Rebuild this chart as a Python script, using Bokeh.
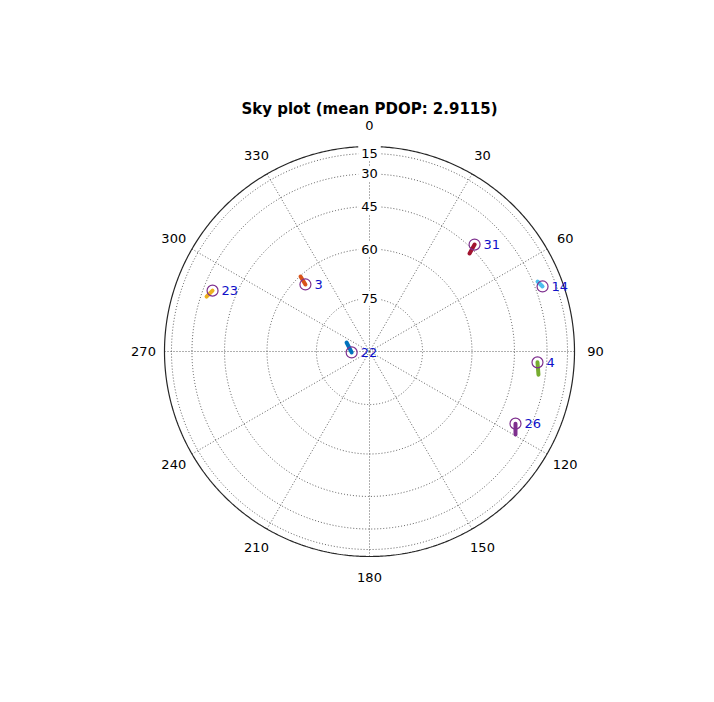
import numpy as np
from bokeh.plotting import figure
from bokeh.models import Range1d
from bokeh.core.properties import value
from bokeh.embed import file_html
from bokeh.resources import INLINE

# ---------------- data ----------------
title_text = "Sky plot (mean PDOP: 2.9115)"
sat_ids = ["22", "3", "23", "31", "14", "4", "26"]
trail_colors = ["#0072BD", "#D95319", "#EDB120", "#A2142F", "#4DBEEE", "#77AC30", "#7E2F8E"]
az_start = [291.4, 317.4, 288.6, 45.6, 67.4, 97.8, 119.6]
el_start = [83.1, 60.2, 33.0, 46.9, 27.4, 33.7, 35.0]
az_end = [267.0, 316.3, 291.2, 44.5, 69.4, 93.7, 116.3]
el_end = [85.0, 63.1, 34.8, 43.0, 25.6, 34.8, 37.4]
elev_ticks = [15, 30, 45, 60, 75]
az_ticks = [0, 30, 60, 90, 120, 150, 180, 210, 240, 270, 300, 330]

# ---------------- geometry ----------------
W, H = 698, 686
CX, CY = 369, 351      # centre, pixels
R = 205.0              # outer radius, pixels

def proj(az, el):
    az = np.radians(np.asarray(az, float))
    r = np.cos(np.radians(np.asarray(el, float)))
    return r * np.sin(az), r * np.cos(az)

p = figure(width=W, height=H, output_backend="svg", toolbar_location=None,
           x_range=Range1d(-CX / R, (W - CX) / R),
           y_range=Range1d(-(H - CY) / R, CY / R),
           min_border=0, outline_line_color=None)
p.axis.visible = False
p.grid.visible = False
p.background_fill_color = "white"

FONT = value("DejaVu Sans")
GRID = "#444444"

# rings
t = np.linspace(0, 2 * np.pi, 721)
ring_xs, ring_ys = [], []
for e in elev_ticks:
    rr = np.cos(np.radians(e))
    ring_xs.append(list(rr * np.sin(t)))
    ring_ys.append(list(rr * np.cos(t)))
p.multi_line(ring_xs, ring_ys, line_color=GRID, line_width=1, line_dash="1 2", line_alpha=0.85)

# radial spokes
sp_xs, sp_ys = [], []
for a in az_ticks:
    x1, y1 = proj(a, 0)
    sp_xs.append([0, float(x1)])
    sp_ys.append([0, float(y1)])
p.multi_line(sp_xs, sp_ys, line_color=GRID, line_width=1, line_dash="1 2", line_alpha=0.85)

# outer circle
p.line(list(np.sin(t)), list(np.cos(t)), line_color="#262626", line_width=1.2)

# elevation labels (white boxes)
ex, ey = proj([0] * len(elev_ticks), elev_ticks)
p.text(x=list(ex), y=list(ey), text=[str(e) for e in elev_ticks],
       text_align="center", text_baseline="middle", text_font=FONT,
       text_font_size="13px", text_color="black",
       background_fill_color="white", padding=3)

# azimuth labels
ar = 226.0 / R
axx = [ar * np.sin(np.radians(a)) for a in az_ticks]
ayy = [ar * np.cos(np.radians(a)) for a in az_ticks]
p.text(x=axx, y=ayy, text=[str(a) for a in az_ticks],
       text_align="center", text_baseline="middle", text_font=FONT,
       text_font_size="13px", text_color="black")

# trails
tx, ty = [], []
for i in range(len(sat_ids)):
    xs_, ys_ = proj([az_start[i], az_end[i]], [el_start[i], el_end[i]])
    tx.append(list(xs_))
    ty.append(list(ys_))
p.multi_line(tx, ty, line_color=trail_colors, line_width=4, line_cap="round")

# current positions
cx_, cy_ = proj(az_end, el_end)
p.scatter(list(cx_), list(cy_), marker="circle", size=11, fill_color=None,
          line_color="#7E2F8E", line_width=1.2)

# satellite labels
p.text(x=list(cx_), y=list(cy_), text=sat_ids, x_offset=9,
       text_align="left", text_baseline="middle", text_font=FONT,
       text_font_size="13px", text_color="#1010c8")

# title
p.text(x=[0], y=[(CY - 108) / R], text=[title_text], text_align="center",
       text_baseline="middle", text_font=FONT, text_font_size="15px",
       text_font_style="bold", text_color="black")

open("out.html", "w").write(file_html(p, INLINE))
